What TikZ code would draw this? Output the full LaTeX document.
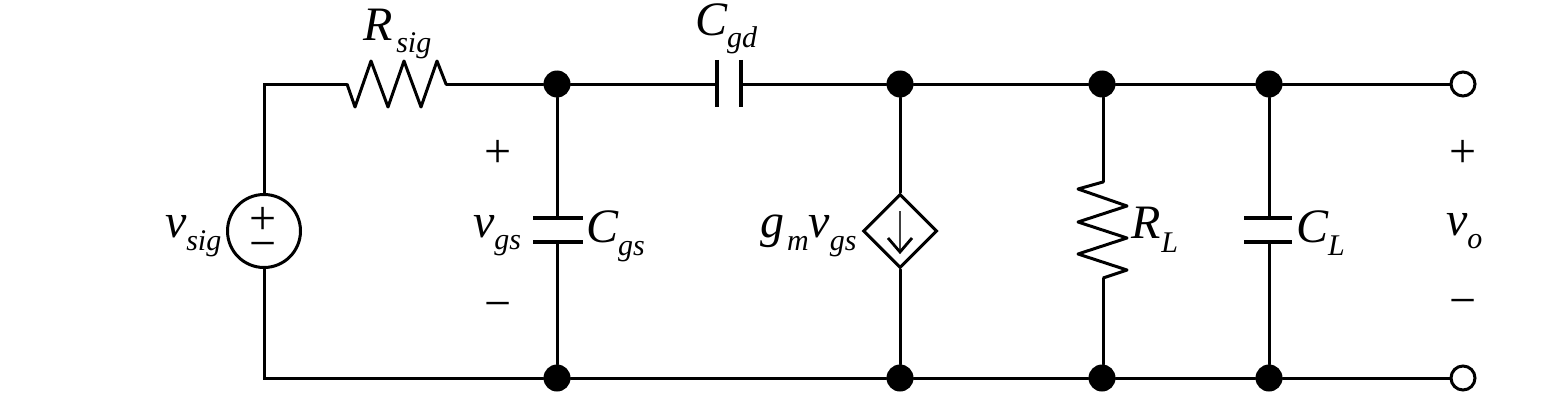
\documentclass[tikz,border=0pt]{standalone}
\usepackage{fontspec}
\setmainfont{Liberation Serif}
\usetikzlibrary{shapes.geometric}
\newcommand\bigtxt{\fontsize{48}{48}\selectfont\itshape}
\newcommand\subtxt{\fontsize{30}{30}\selectfont\itshape}
% main letter, kern, subscript, drop
\newcommand\subl[4]{{\bigtxt #1}\kern#2pt\raisebox{-#4pt}{\subtxt #3}}
\tikzset{
  wire/.style={line width=3pt,line cap=round,line join=miter},
  plate/.style={line width=4pt,line cap=butt},
  dotnode/.style={circle,fill=black,draw=none,minimum size=27pt,inner sep=0pt},
  termnode/.style={circle,fill=white,draw=black,line width=3pt,minimum size=24pt,inner sep=0pt},
  lbl/.style={anchor=base west,inner sep=0pt,outer sep=0pt},
  sign/.style={inner sep=0pt,outer sep=0pt,font=\fontsize{48}{48}\selectfont},
  srccircle/.style={circle,draw=black,line width=3pt,minimum size=73pt,inner sep=0pt},
  srcdiamond/.style={diamond,draw=black,line width=3pt,minimum width=74pt,minimum height=74pt,inner sep=0pt,aspect=1},
}
\begin{document}
\begin{tikzpicture}[x=1pt,y=-1pt]
\useasboundingbox (0,0) rectangle (1552,420);
% corners and component ends
\coordinate (tl) at (264,84);
\coordinate (bl) at (264,378);
\coordinate (rsA) at (347,84);
\coordinate (rsB) at (446,84);
\coordinate (cgdA) at (717,84);
\coordinate (cgdB) at (741,84);
\coordinate (cgsA) at (557,218);
\coordinate (cgsB) at (557,242);
\coordinate (rlA) at (1103,182);
\coordinate (rlB) at (1103,278);
\coordinate (clA) at (1269,218);
\coordinate (clB) at (1269,242);
% sources
\node[srccircle] (vs) at (264,231) {};
\node[srcdiamond] (gm) at (900,231) {};
% junctions
\node[dotnode] (t1) at (557,84) {};
\node[dotnode] (t2) at (900,84) {};
\node[dotnode] (t3) at (1102,84) {};
\node[dotnode] (t4) at (1269,84) {};
\node[dotnode] (b1) at (557,378) {};
\node[dotnode] (b2) at (900,378) {};
\node[dotnode] (b3) at (1102,378) {};
\node[dotnode] (b4) at (1269,378) {};
\node[termnode] (to) at (1463,84) {};
\node[termnode] (bo) at (1463,378) {};
% wires
\draw[wire] (vs.north) -- (tl) -- (rsA);
\draw[wire] (rsB) -- (t1);
\draw[wire] (t1) -- (cgdA);
\draw[wire] (cgdB) -- (t2);
\draw[wire] (t2) -- (t3);
\draw[wire] (t3) -- (t4);
\draw[wire] (t4) -- (to.west);
\draw[wire] (vs.south) -- (bl) -- (b1);
\draw[wire] (b1) -- (b2);
\draw[wire] (b2) -- (b3);
\draw[wire] (b3) -- (b4);
\draw[wire] (b4) -- (bo.west);
\draw[wire] (t1) -- (cgsA);
\draw[wire] (cgsB) -- (b1);
\draw[wire] (t2) -- (gm.north);
\draw[wire] (gm.south) -- (b2);
\draw[wire] (rlA) -- (t3.south -| rlA);
\draw[wire] (rlB) -- (b3.north -| rlB);
\draw[wire] (t4) -- (clA);
\draw[wire] (clB) -- (b4);
% resistors
\draw[wire,line cap=butt,line join=round] (rsA) -- ++(8,23) -- ++(16,-46) -- ++(17,46) -- ++(16,-46) -- ++(17,46) -- ++(16,-46) -- (rsB);
\draw[wire,line cap=butt,line join=round] (rlA) -- (1078,189) -- (1127,206) -- (1078,222) -- (1127,238) -- (1078,254) -- (1127,270) -- (rlB);
% capacitor plates
\draw[plate] (717,60) -- (717,107);
\draw[plate] (741,60) -- (741,107);
\draw[plate] (533,218) -- (583,218);
\draw[plate] (533,242) -- (583,242);
\draw[plate] (1244,218) -- (1292,218);
\draw[plate] (1244,242) -- (1292,242);
% dependent-source arrow
\coordinate (arA) at (900,211);
\coordinate (arB) at (900,252);
\draw[line width=2.6pt,black!75] (arA) -- (arB);
\draw[line width=2.8pt,line join=miter] (888,238) -- (arB) -- (912,238);
% polarity signs
\node[sign,align=center,font=\fontsize{48}{25}\selectfont] (sp) at (263,233) {+\\[0pt]−};
\node[sign] (gp) at (498,154) {+};
\node[sign] (gm2) at (498,311) {−};
\node[sign] (op) at (1463,154) {+};
\node[sign] (om) at (1463,308) {−};
% labels
\node[lbl] (Lrs) at (363,41) {\subl{R}{4}{sig}{12}};
\node[lbl] (Lvs) at (165,237) {\subl{v}{0}{sig}{13}};
\node[lbl] (Lvg) at (473,237) {\subl{v}{0}{gs}{12}};
\node[lbl] (Lcs) at (586,242) {\subl{C}{0}{gs}{13}};
\node[lbl] (Lcd) at (695,36) {\subl{C}{0}{gd}{12}};
\node[lbl] (Lgm) at (760,237) {\subl{g}{3}{m}{13}\subl{v}{0}{gs}{13}};
\node[lbl] (Lrl) at (1131,238) {\subl{R}{1}{L}{14}};
\node[lbl] (Lcl) at (1296,242) {\subl{C}{0}{L}{13}};
\node[lbl] (Lvo) at (1446,235) {\subl{v}{0}{o}{13}};
\end{tikzpicture}
\end{document}
